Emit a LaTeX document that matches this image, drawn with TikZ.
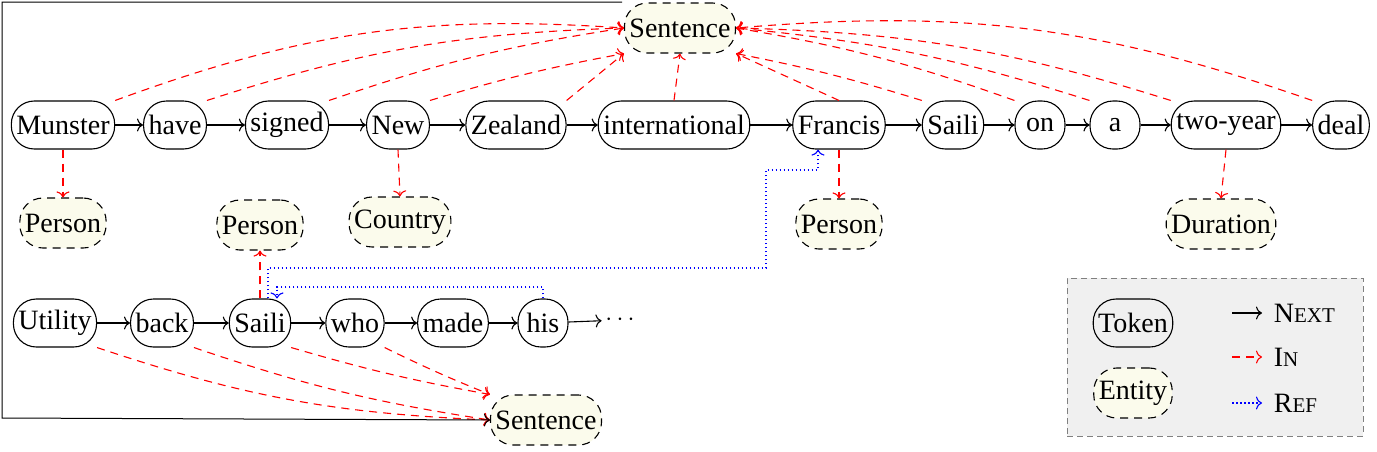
\documentclass[tikz,border=0pt]{standalone}
\usepackage{fontspec}
\setmainfont{Liberation Serif}
\usetikzlibrary{arrows.meta}
\begin{document}
\begin{tikzpicture}[x=1pt,y=-1pt,line width=1.1pt,
  >={To[length=6pt,width=13pt]},
  every node/.style={font=\fontsize{28}{30}\selectfont},
  tok/.style={draw,rectangle,rounded corners=23pt,minimum height=48pt,minimum width=50pt,inner xsep=5pt,inner ysep=1pt},
  ent/.style={draw,dash pattern=on 8pt off 6pt,rectangle,rounded corners=23pt,minimum height=50pt,inner xsep=5pt,fill={rgb,255:red,251;green,251;blue,236}},
  nxt/.style={->,black},
  inn/.style={->,red,dash pattern=on 8pt off 6pt},
  rf/.style={->,blue,dash pattern=on 1.5pt off 2.5pt}]
\useasboundingbox (0,0) rectangle (1377,451);
\node[ent] (s1) at (680,28) {Sentence};
\node[tok] (w1) at (63,125) {Munster};
\node[tok] (w2) at (175,125) {have};
\node[tok] (w3) at (287,125) {signed};
\node[tok] (w4) at (398,125) {New};
\node[tok] (w5) at (516,125) {Zealand};
\node[tok] (w6) at (674,125) {international};
\node[tok] (w7) at (839,125) {Francis};
\node[tok] (w8) at (953,125) {Saili};
\node[tok] (w9) at (1040,125) {on};
\node[tok] (w10) at (1115,125) {a};
\node[tok] (w11) at (1226,125) {two-year};
\node[tok] (w12) at (1341,125) {deal};
\foreach \a/\b in {w1/w2,w2/w3,w3/w4,w4/w5,w5/w6,w6/w7,w7/w8,w8/w9,w9/w10,w10/w11,w11/w12}
  \draw[nxt] (\a) -- (\b);
\node[ent] (e1) at (63,223) {Person};
\node[ent] (e2) at (260,225) {Person};
\node[ent] (e3) at (400,222) {Country};
\node[ent] (e4) at (839,224) {Person};
\node[ent] (e5) at (1221,224) {Duration};
\draw[inn] (w1.south) -- (e1.north);
\draw[inn] (w4.south) -- (e3.north);
\draw[inn] (w7.south) -- (e4.north);
\draw[inn] (w11.south) -- (e5.north);
\draw[inn] (w1.north east) to[bend left=12] (s1.west);
\draw[inn] (w2.north east) to[bend left=8] (s1.west);
\draw[inn] (w3.north east) to[bend left=5] (s1.west);
\draw[inn] (w4.north east) to[bend left=3] (s1.south west);
\draw[inn] (w5.north east) -- (s1.south west);
\draw[inn] (w6.north) -- (s1.south);
\draw[inn] (w7.north) -- (s1.south east);
\draw[inn] (w8.north west) to[bend right=3] (s1.south east);
\draw[inn] (w9.north west) to[bend right=5] (s1.east);
\draw[inn] (w10.north west) to[bend right=6] (s1.east);
\draw[inn] (w11.north west) to[bend right=8] (s1.east);
\draw[inn] (w12.north west) to[bend right=12] (s1.east);
\node[tok] (u1) at (55,323) {Utility};
\node[tok] (u2) at (162,323) {back};
\node[tok] (u3) at (260,323) {Saili};
\node[tok] (u4) at (355,323) {who};
\node[tok] (u5) at (453,323) {made};
\node[tok] (u6) at (543,323) {his};
\node (u7) at (620,320) {$\cdots$};
\foreach \a/\b in {u1/u2,u2/u3,u3/u4,u4/u5,u5/u6,u6/u7}
  \draw[nxt] (\a) -- (\b);
\node[ent] (s2) at (546,420) {Sentence};
\draw[inn] (u3.north) -- (e2.south);
\draw[inn] (u1.south east) to[bend right=8] (s2.west);
\draw[inn] (u2.south east) to[bend right=5] (s2.west);
\draw[inn] (u3.south east) to[bend right=3] (s2.north west);
\draw[inn] (u4.south east) to[bend right=2] (s2.north west);
\coordinate (c1) at (622,2);
\draw[nxt,line width=1pt] (c1) -- (2,2) -- (2,418) -- (s2.west);
\draw[rf] (u3.north -| 268,300) -- (268,268) -- (766,268) -- (766,170) -- (818,170) -- (w7.south -| 818,0);
\draw[rf] (u6.north) -- (543,287) -- (277,287) -- (u3.north -| 277,0);
\node[draw=gray,dash pattern=on 6pt off 4pt,line width=0.6pt,fill=gray!12,minimum width=296pt,minimum height=158pt] (leg) at (1215,357) {};
\node[tok] (lt) at (1133,323) {Token};
\node[ent] (le) at (1133,393) {Entity};
\coordinate (a1) at (1232,313); \coordinate (a2) at (1262,313);
\coordinate (b1) at (1232,357); \coordinate (b2) at (1262,357);
\coordinate (d1) at (1232,403); \coordinate (d2) at (1262,403);
\draw[nxt] (a1) -- (a2); \draw[inn] (b1) -- (b2); \draw[rf] (d1) -- (d2);
\node[anchor=west] (l1) at (1270,313) {N{\fontsize{21}{21}\selectfont EXT}};
\node[anchor=west] (l2) at (1270,357) {I{\fontsize{21}{21}\selectfont N}};
\node[anchor=west] (l3) at (1270,403) {R{\fontsize{21}{21}\selectfont EF}};
\end{tikzpicture}
\end{document}
